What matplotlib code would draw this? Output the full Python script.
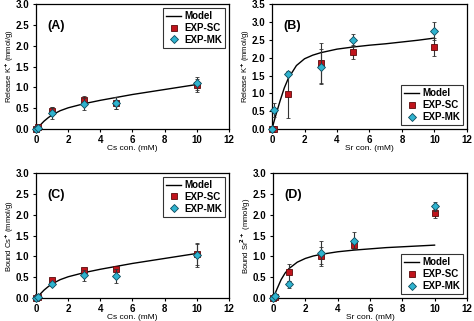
import numpy as np
import matplotlib
matplotlib.use('Agg')
import matplotlib.pyplot as plt
from matplotlib.ticker import FormatStrFormatter

plt.rcParams['font.family'] = ['Liberation Sans', 'DejaVu Sans']
plt.rcParams['font.weight'] = 'bold'
plt.rcParams['mathtext.default'] = 'bf'

# experimental concentrations (mM)
conc = [0, 0.1, 1, 3, 5, 10]

# (A) Release K+ vs Cs
a_sc = [0, 0.05, 0.43, 0.70, 0.63, 1.05]
a_sc_err = [0, 0.05, 0.10, 0.10, 0.15, 0.15]
a_mk = [0, 0.03, 0.38, 0.60, 0.62, 1.10]
a_mk_err = [0, 0.05, 0.15, 0.15, 0.15, 0.15]

# (B) Release K+ vs Sr
b_sc = [0, 0.0, 0.97, 1.85, 2.15, 2.30]
b_sc_err = [0, 0.0, 0.65, 0.55, 0.20, 0.25]
b_mk = [0, 0.53, 1.55, 1.75, 2.50, 2.75]
b_mk_err = [0, 0.20, 0.05, 0.50, 0.17, 0.25]

# (C) Bound Cs+ vs Cs
c_sc = [0, 0.03, 0.43, 0.68, 0.70, 1.05]
c_sc_err = [0, 0.02, 0.05, 0.05, 0.05, 0.25]
c_mk = [0, 0.03, 0.33, 0.55, 0.52, 1.03]
c_mk_err = [0, 0.02, 0.05, 0.13, 0.17, 0.28]

# (D) Bound Sr2+ vs Sr
d_sc = [0, 0.03, 0.62, 1.02, 1.28, 2.03]
d_sc_err = [0, 0.02, 0.20, 0.20, 0.10, 0.10]
d_mk = [0, 0.05, 0.33, 1.08, 1.38, 2.20]
d_mk_err = [0, 0.02, 0.08, 0.30, 0.20, 0.10]

# model curves
model_x = [0, 0.1, 0.25, 0.5, 0.75, 1, 1.5, 2, 2.5, 3, 4, 5, 6, 7, 8, 9, 10]
model_cs = [0, 0.03, 0.09, 0.19, 0.27, 0.34, 0.44, 0.51, 0.56, 0.61, 0.69, 0.76, 0.83, 0.89, 0.95, 1.01, 1.07]
model_sr_rel = [0, 0.18, 0.42, 0.80, 1.15, 1.42, 1.78, 1.97, 2.07, 2.14, 2.24, 2.30, 2.35, 2.39, 2.44, 2.49, 2.55]
model_sr_bnd = [0, 0.08, 0.22, 0.44, 0.60, 0.71, 0.86, 0.95, 1.01, 1.05, 1.11, 1.15, 1.18, 1.21, 1.23, 1.25, 1.27]

panels = [
    ('(A)', [0.076, 0.598, 0.407, 0.389], a_sc, a_sc_err, a_mk, a_mk_err, model_cs,
     'Cs con. (mM)', 'Release K$^{+}$ (mmol/g)', 3.0, 'upper right'),
    ('(B)', [0.574, 0.598, 0.411, 0.389], b_sc, b_sc_err, b_mk, b_mk_err, model_sr_rel,
     'Sr con. (mM)', 'Release K$^{+}$ (mmol/g)', 3.5, 'lower right'),
    ('(C)', [0.076, 0.0717, 0.407, 0.389], c_sc, c_sc_err, c_mk, c_mk_err, model_cs,
     'Cs con. (mM)', 'Bound Cs$^{+}$ (mmol/g)', 3.0, 'upper right'),
    ('(D)', [0.576, 0.0717, 0.409, 0.389], d_sc, d_sc_err, d_mk, d_mk_err, model_sr_bnd,
     'Sr con. (mM)', 'Bound Sr$^{2+}$ (mmol/g)', 3.0, 'lower right'),
]

fig = plt.figure(figsize=(4.74, 3.21), dpi=100)

for tag, pos, sc, sc_err, mk, mk_err, model, xlab, ylab, ymax, loc in panels:
    ax = fig.add_axes(pos)
    line, = ax.plot(model_x, model, color='black', lw=1.0, zorder=2)
    e1 = ax.errorbar(conc, sc, yerr=sc_err, fmt='s', ms=4.8, mfc='#c0141c', mec='#5a0a0a',
                     mew=0.6, ecolor='#333333', elinewidth=0.8, capsize=1.2, zorder=3)
    e2 = ax.errorbar(conc, mk, yerr=mk_err, fmt='D', ms=4.3, mfc='#2fb3cf', mec='#0f4a5c',
                     mew=0.6, ecolor='#333333', elinewidth=0.8, capsize=1.2, zorder=4)
    for c in (e1, e2):
        c[0].set_clip_on(False)
    ax.set_xlim(0, 12)
    ax.set_ylim(0, ymax)
    ax.set_xticks(range(0, 13, 2))
    ax.set_yticks(np.arange(0, ymax + 0.01, 0.5))
    ax.yaxis.set_major_formatter(FormatStrFormatter('%.1f'))
    ax.tick_params(labelsize=7, length=2.5, width=0.8, pad=2)
    ax.tick_params(axis='y', pad=2.5)
    ax.set_xlabel(xlab, fontsize=6, labelpad=0)
    ax.set_ylabel(ylab, fontsize=5.5)
    ax.yaxis.set_label_coords(-0.105, 0.5)
    for s in ax.spines.values():
        s.set_linewidth(0.9)
    ax.text(0.06, 0.80, tag, transform=ax.transAxes, fontsize=9, fontweight='bold')
    leg = ax.legend([line, e1[0], e2[0]], ['Model', 'EXP-SC', 'EXP-MK'], loc=loc,
                    fontsize=7, frameon=True, fancybox=False, handlelength=1.6,
                    handletextpad=0.3, borderpad=0.3, labelspacing=0.2, borderaxespad=0.4)
    leg.get_frame().set_edgecolor('black')
    leg.get_frame().set_linewidth(0.8)

fig.savefig('out.png', dpi=100)
